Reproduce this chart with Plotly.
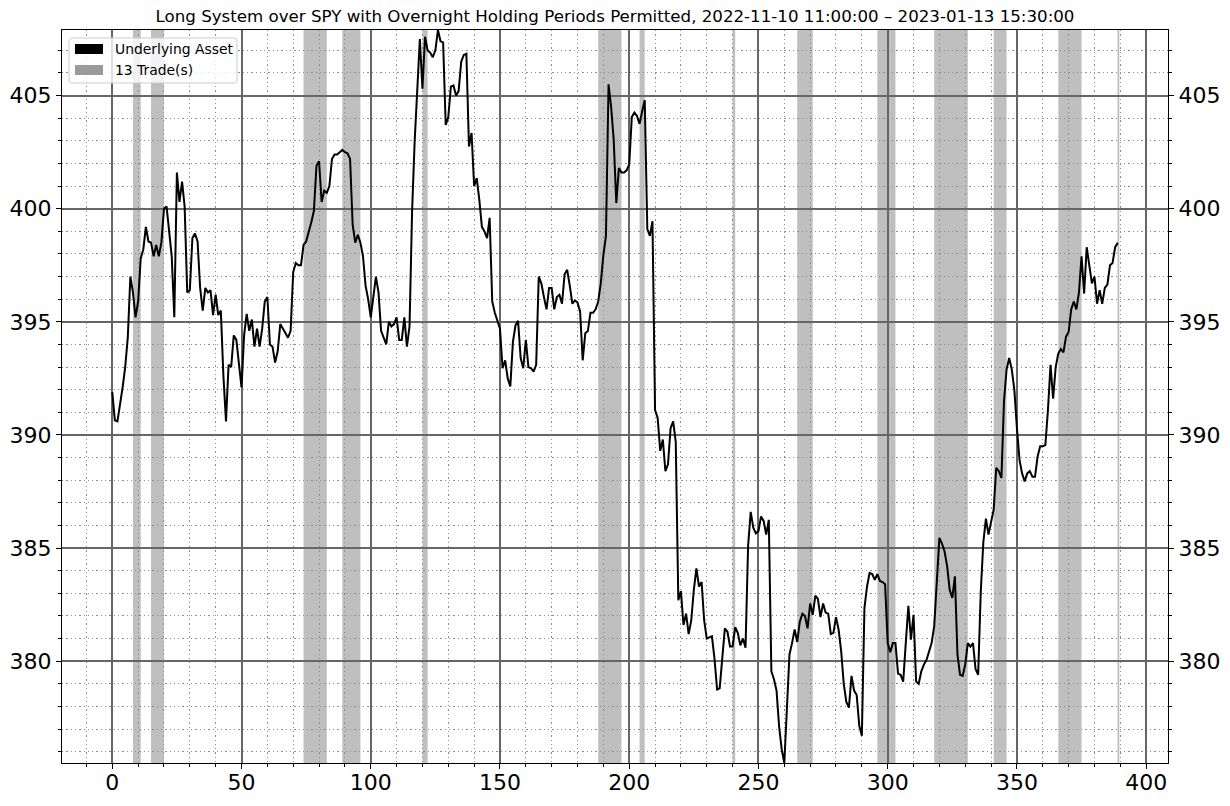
import plotly.graph_objects as go

# ---- data ----
price = [
    391.9, 390.65, 390.6, 391.3, 392.1, 393.0, 394.3, 397.0, 396.3, 395.2,
    395.9, 397.8, 398.2, 399.2, 398.55, 398.5, 397.9, 398.4, 397.9, 398.5,
    400.0, 400.1, 399.1, 397.9, 395.2, 401.6, 400.3, 401.2, 400.1, 396.3,
    396.4, 398.7, 398.9, 398.55, 396.5, 395.5, 396.5, 396.3, 396.4, 395.3,
    396.2, 395.3, 395.5, 392.6, 390.6, 393.1, 393.0, 394.4, 394.2, 393.2,
    392.1, 394.4, 395.35, 394.6, 395.1, 393.9, 394.7, 393.9, 394.7, 395.9,
    396.1, 394.0, 393.9, 393.2, 393.7, 394.9, 394.7, 394.5, 394.3, 394.6,
    397.2, 397.6, 397.5, 397.5, 398.4, 398.55, 398.95, 399.4, 399.9, 401.9,
    402.1, 400.3, 400.8, 400.7, 401.0, 402.2, 402.4, 402.4, 402.5, 402.6,
    402.5, 402.45, 402.2, 399.3, 398.5, 398.85, 398.5, 397.9, 396.6, 396.0,
    395.2, 396.1, 397.0, 396.3, 394.6, 394.3, 394.0, 395.0, 394.8, 394.9,
    395.2, 394.2, 394.2, 395.2, 393.9, 394.8, 399.9, 403.0, 405.2, 407.5,
    405.3, 407.6, 407.0, 406.9, 406.7, 407.0, 407.9, 407.4, 407.35, 403.7,
    404.05, 405.4, 405.45, 405.0, 405.2, 406.5, 406.8, 406.85, 402.75, 403.35,
    401.0, 401.35, 400.4, 399.2, 399.0, 398.7, 399.6, 395.9, 395.4, 395.05,
    394.7, 392.95, 393.3, 392.5, 392.15, 394.1, 394.85, 395.05, 393.4, 392.95,
    394.2, 393.0, 392.95, 392.8, 393.1, 397.0, 396.7, 396.1, 395.55, 396.5,
    396.5, 395.55, 396.1, 396.2, 395.8, 397.1, 397.3, 396.6, 395.8, 395.95,
    395.85, 395.45, 393.3, 394.5, 394.6, 395.4, 395.4, 395.55, 395.9, 396.7,
    397.95, 398.8, 405.5, 404.5, 403.05, 400.25, 401.8, 401.6, 401.6, 401.7,
    401.95, 404.05, 404.25, 404.1, 403.75, 404.3, 404.8, 399.1, 398.8, 399.45,
    391.1, 390.75, 389.3, 389.8, 388.4, 388.7, 390.3, 390.6, 389.7, 382.7,
    383.1, 381.6, 382.1, 381.2, 381.8, 383.15, 384.1, 383.3, 383.5, 381.8,
    381.0, 381.05, 381.1, 380.1, 378.75, 378.8, 380.0, 381.45, 381.3, 380.65,
    380.65, 381.5, 381.25, 380.7, 381.0, 380.6, 385.1, 386.6, 385.9, 385.65,
    385.75, 386.4, 386.2, 385.6, 386.25, 379.55, 379.2, 378.7, 377.1, 376.1,
    375.5, 377.85, 380.3, 380.8, 381.4, 380.85, 381.75, 382.1, 382.0, 381.45,
    382.55, 382.05, 382.9, 382.75, 381.95, 382.55, 382.15, 382.1, 381.2, 381.25,
    381.95, 381.4, 380.45, 379.0, 378.2, 377.95, 379.35, 378.7, 378.5, 377.15,
    376.7, 382.35, 383.3, 383.9, 383.85, 383.6, 383.85, 383.55, 383.5, 383.4,
    380.8, 380.4, 380.8, 380.8, 379.45, 379.4, 379.1, 380.8, 382.45, 380.95,
    382.05, 379.1, 379.0, 379.55, 379.85, 380.05, 380.45, 380.8, 381.55, 383.45,
    385.45, 385.2, 384.85, 384.2, 383.15, 382.8, 383.75, 380.3, 379.4, 379.35,
    379.85, 380.8, 380.65, 380.8, 379.65, 379.4, 383.05, 385.25, 386.3, 385.6,
    386.2, 386.7, 388.55, 388.4, 388.1, 391.5, 392.9, 393.4, 392.9, 392.0,
    390.3, 388.9, 388.3, 387.95, 388.3, 388.4, 388.15, 388.15, 389.05, 389.5,
    389.5, 389.55, 391.1, 393.1, 391.6, 393.0, 393.6, 393.8, 393.65, 394.35,
    394.55, 395.55, 395.9, 395.55, 396.3, 397.9, 396.25, 398.3, 397.5, 396.7,
    397.0, 395.8, 396.4, 395.8, 396.5, 396.65, 397.5, 397.6, 398.3, 398.5,
]
bar_index = list(range(len(price)))

trade_entry = [8, 15, 74, 89, 120, 188, 204, 240, 265, 296, 318, 341, 366, 388.9]
trade_exit = [11, 20, 83, 96, 122, 197, 206, 241, 271, 303, 331, 346, 375, 389.6]

title_text = ("Long System over SPY with Overnight Holding Periods Permitted, "
              "2022-11-10 11:00:00 \u2013 2023-01-13 15:30:00")
legend_labels = ["Underlying Asset", "13 Trade(s)"]

# ---- layout geometry (page pixels; the page body has an 8px margin) ----
OFF = 8
W, H = 1230 - 2 * OFF, 806 - 2 * OFF
L, R, T, B = 62, 1168, 30, 763          # plot area in page pixels
FONT = "DejaVu Sans"

n = len(price)
span = n - 1
xr = [0 - 0.05 * span, span + 0.05 * span]
yr = [min(price), max(price)]

MAJOR_GRID = "#666666"
MINOR_GRID = "#8f8f8f"
SPAN_COLOR = "#bfbfbf"

def px_x(p):
    return (p - L) / (R - L)

def px_y(p):
    return (B - p) / (B - T)

fig = go.Figure()
fig.add_trace(go.Scatter(x=bar_index, y=price, mode="lines",
                         line=dict(color="black", width=2),
                         showlegend=False, hoverinfo="x+y"))
fig.add_trace(go.Scatter(x=bar_index, y=price, mode="lines", yaxis="y2",
                         line=dict(color="rgba(0,0,0,0)", width=0),
                         showlegend=False, hoverinfo="skip"))

shapes = []
for a, b in zip(trade_entry, trade_exit):
    shapes.append(dict(type="rect", xref="x", yref="y domain", x0=a, x1=b,
                       y0=0, y1=1, fillcolor=SPAN_COLOR, line=dict(width=0),
                       layer="below"))

# legend box (rounded)
bx0, by0, bx1, by1, rr = 69, 38, 237, 83, 3
def P(x, y):
    return f"{px_x(x):.5f},{px_y(y):.5f}"
path = (f"M {P(bx0+rr, by0)} L {P(bx1-rr, by0)} Q {P(bx1, by0)} {P(bx1, by0+rr)} "
        f"L {P(bx1, by1-rr)} Q {P(bx1, by1)} {P(bx1-rr, by1)} "
        f"L {P(bx0+rr, by1)} Q {P(bx0, by1)} {P(bx0, by1-rr)} "
        f"L {P(bx0, by0+rr)} Q {P(bx0, by0)} {P(bx0+rr, by0)} Z")
shapes.append(dict(type="path", xref="paper", yref="paper", path=path,
                   fillcolor="rgba(255,255,255,0.8)",
                   line=dict(color="#cccccc", width=1), layer="above"))
legend_colors = ["black", "#9a9a9a"]
legend_rows = [49, 70]
annotations = []
for lab, col, cy in zip(legend_labels, legend_colors, legend_rows):
    shapes.append(dict(type="rect", xref="paper", yref="paper",
                       x0=px_x(75), x1=px_x(103), y0=px_y(cy - 5), y1=px_y(cy + 5),
                       fillcolor=col, line=dict(width=0), layer="above"))
    annotations.append(dict(xref="paper", yref="paper", x=px_x(113), y=px_y(cy),
                            xanchor="left", yanchor="middle", text=lab,
                            showarrow=False,
                            font=dict(family=FONT, size=13.9, color="black")))

tickfont = dict(family=FONT, size=22, color="black")
minor_common = dict(showgrid=True, gridcolor=MINOR_GRID, gridwidth=1,
                    griddash="1.3px,3px", ticks="outside", ticklen=3,
                    tickcolor="black", tickwidth=1)

fig.update_layout(
    width=W, height=H,
    margin=dict(l=L - OFF, r=(W + OFF) - R, t=T - OFF, b=(H + OFF) - B,
                pad=0, autoexpand=False),
    paper_bgcolor="white", plot_bgcolor="white",
    showlegend=False,
    title=dict(text=title_text, x=0.5, xanchor="center", xref="paper",
               y=1 - (16 - OFF) / H, yanchor="middle", yref="container",
               automargin=False,
               font=dict(family=FONT, size=16.67, color="black")),
    xaxis=dict(range=xr, tick0=0, dtick=50, showgrid=True, automargin=False,
               gridcolor=MAJOR_GRID, gridwidth=1.5,
               ticks="outside", ticklen=5, tickcolor="black", tickwidth=1,
               ticklabelstandoff=-6,
               tickfont=tickfont, showline=True, linecolor="black",
               linewidth=1.2, mirror=True, zeroline=False,
               minor=dict(dtick=10, tick0=0, **minor_common)),
    yaxis=dict(range=yr, tick0=0, dtick=5, showgrid=True, automargin=False,
               gridcolor=MAJOR_GRID, gridwidth=1.5,
               ticks="outside", ticklen=5, tickcolor="black", tickwidth=1,
               tickfont=tickfont, showline=True, linecolor="black",
               linewidth=1.2, mirror=True, zeroline=False,
               minor=dict(dtick=1, tick0=0, **minor_common)),
    yaxis2=dict(range=yr, overlaying="y", side="right", tick0=0, dtick=5,
                automargin=False,
                showgrid=False, ticks="outside", ticklen=5, tickcolor="black",
                tickwidth=1, tickfont=tickfont, showline=True,
                linecolor="black", linewidth=1.2, zeroline=False,
                minor=dict(dtick=1, tick0=0, ticks="outside", ticklen=3,
                           tickcolor="black", showgrid=False)),
    shapes=shapes,
    annotations=annotations,
)

fig.write_html("out.html")
